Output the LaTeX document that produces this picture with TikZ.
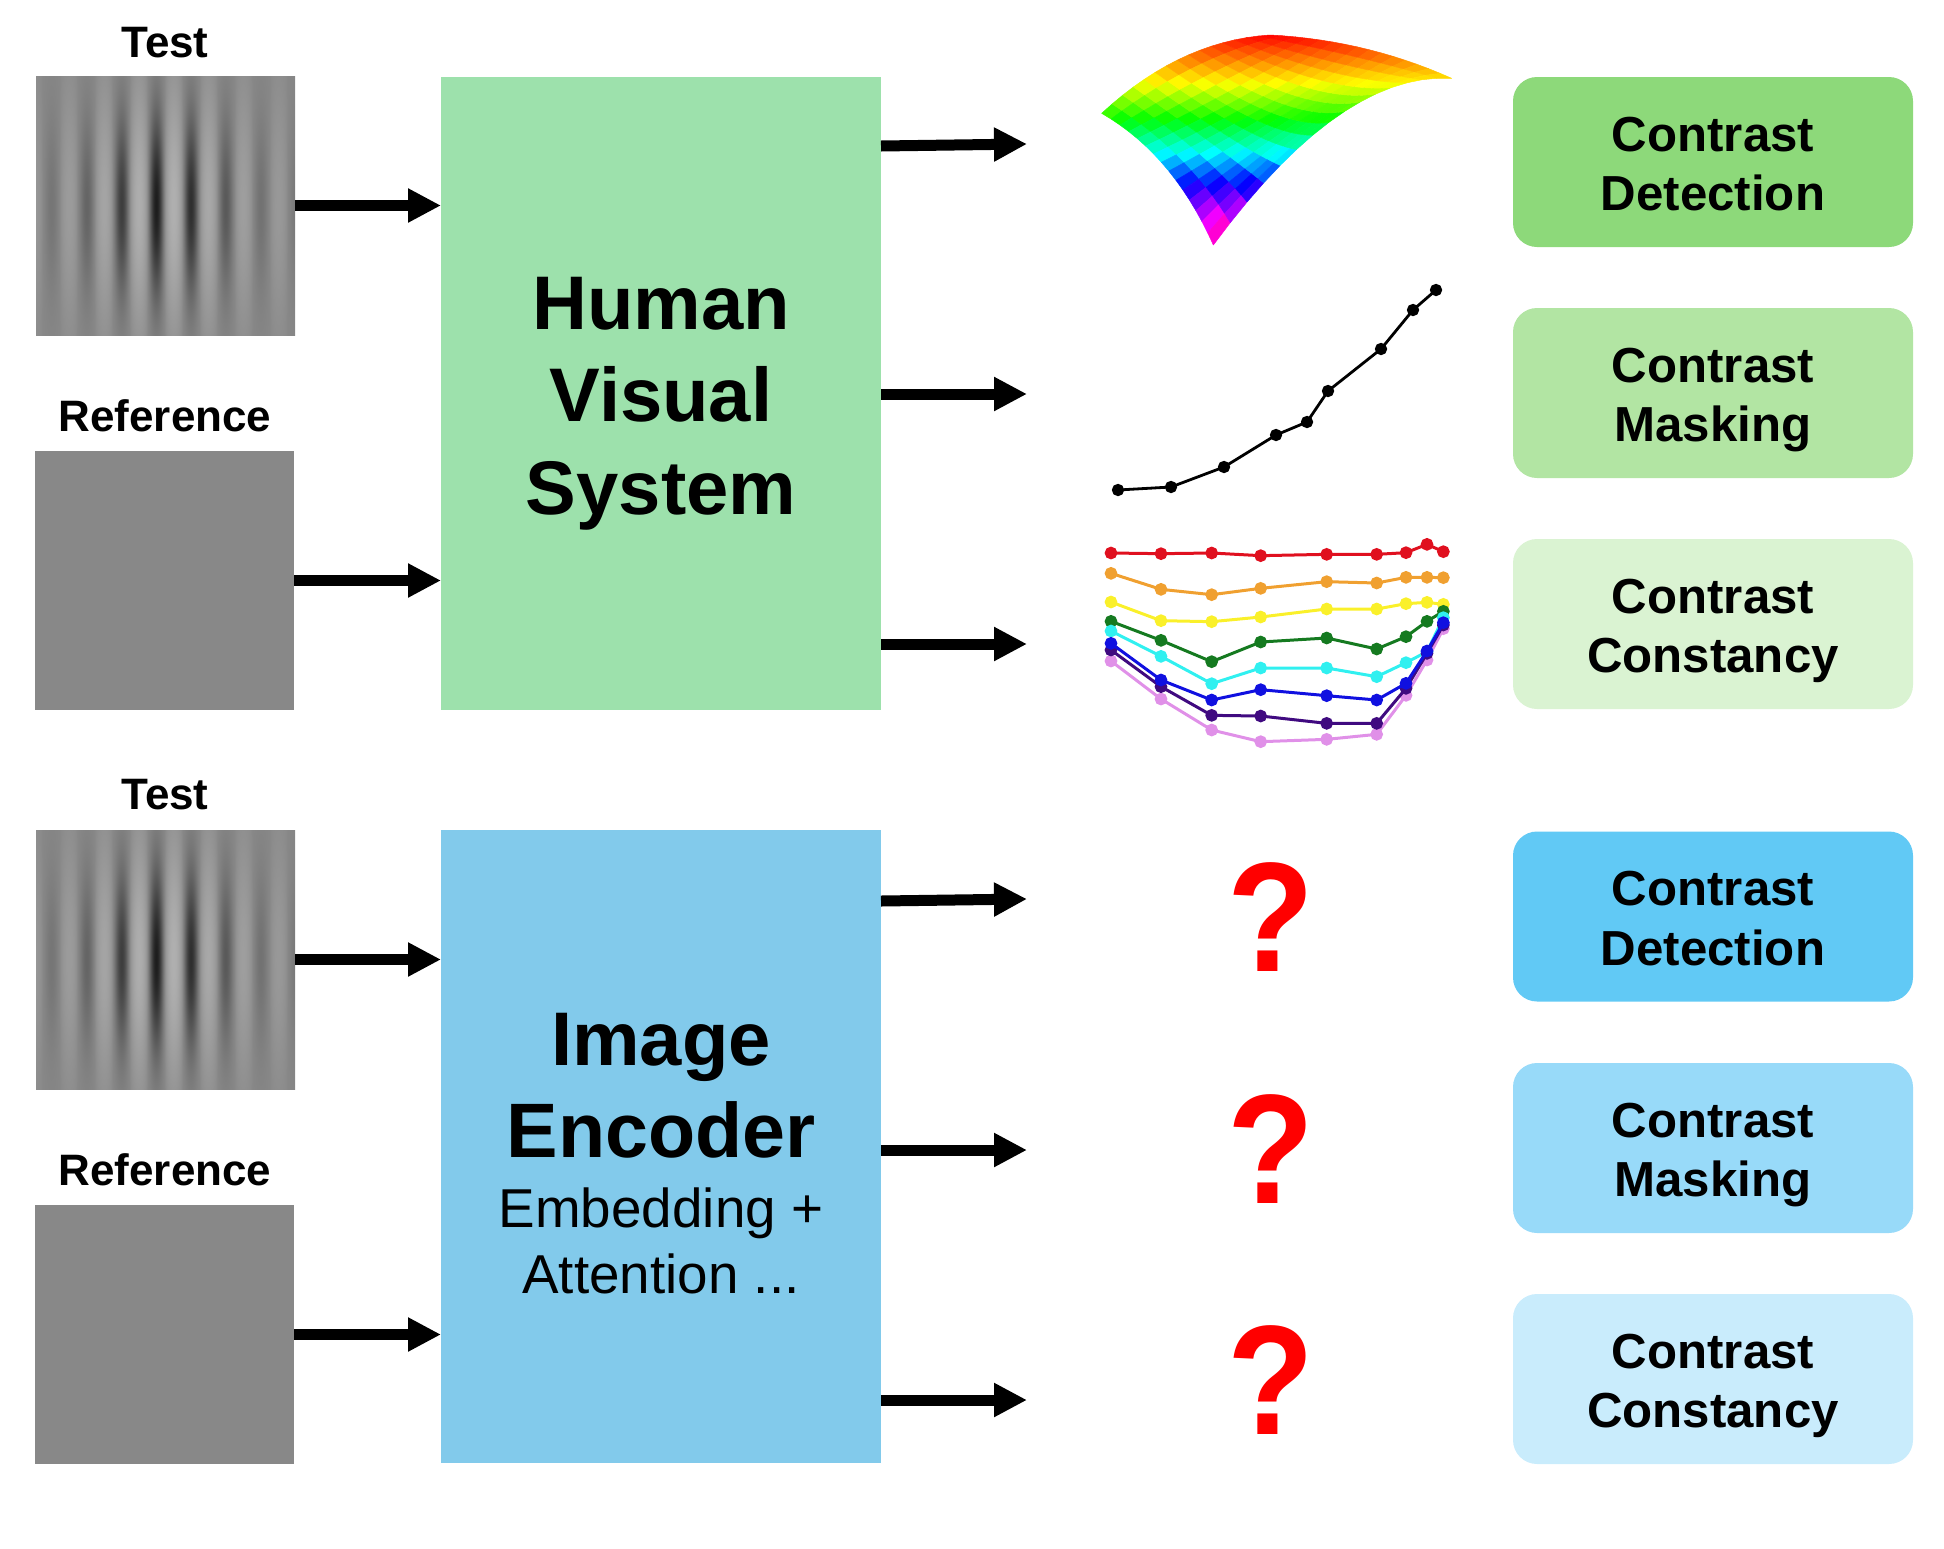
\PassOptionsToPackage{rgb}{xcolor}
\documentclass[tikz,border=0pt]{standalone}
\usepackage{graphicx}
\usepackage{fontspec}
\setmainfont{Liberation Sans}
\usetikzlibrary{arrows.meta}
\definecolor{hvsgreen}{HTML}{9DE1AC}
\definecolor{encblue}{HTML}{82CAEB}
\definecolor{gA}{HTML}{8DD97A}
\definecolor{gB}{HTML}{B2E5A3}
\definecolor{gC}{HTML}{DAF3D2}
\definecolor{bA}{HTML}{61C9F5}
\definecolor{bB}{HTML}{98DAF9}
\definecolor{bC}{HTML}{C9ECFC}
\definecolor{refgray}{HTML}{888888}
\definecolor{pRed}{HTML}{E0101F}
\definecolor{pOrange}{HTML}{F0A030}
\definecolor{pYellow}{HTML}{FAF02A}
\definecolor{pGreen}{HTML}{157A20}
\definecolor{pCyan}{HTML}{30F0F0}
\definecolor{pBlue}{HTML}{1010E0}
\definecolor{pPurple}{HTML}{400A80}
\definecolor{pViolet}{HTML}{E090E8}
\pgfdeclarefunctionalshading{gabor}{\pgfpoint{0bp}{0bp}}{\pgfpoint{100bp}{100bp}}{}{
  25 sub 5.18 mul exch 25 sub 5.18 mul exch
  129.5 sub dup mul 10000 div neg 2.71828 exch exp
  exch
  dup 126 sub dup mul 4418 div neg 2.71828 exch exp 0.8 mul 0.2 add
  3 -1 roll mul
  exch
  120 sub 360 mul 35 div cos
  mul
  dup 0 gt { 1.3 exp 0.42 mul 0.53 exch sub } { neg 0.6 exp 0.16 mul 0.53 add } ifelse
  dup dup
}
\tikzset{
  stim/.style={minimum width=129.5pt,minimum height=129.5pt,inner sep=0pt,outer sep=0pt,anchor=north west},
  gaborimg/.style={stim,shade,shading=gabor},
  refimg/.style={stim,fill=refgray},
  bigbox/.style={minimum width=220pt,minimum height=316.5pt,inner sep=0pt,outer sep=0pt,anchor=north west},
  lab/.style={minimum width=200pt,minimum height=85pt,inner sep=0pt,outer sep=0pt,anchor=north west,rounded corners=12pt,align=center,font=\fontsize{24.6}{29.6}\selectfont\bfseries},
  stimlabel/.style={anchor=base,inner sep=0pt,font=\fontsize{22}{26}\selectfont\bfseries},
  qmark/.style={anchor=base,inner sep=0pt,text=red,font=\fontsize{78}{90}\selectfont\bfseries},
  flow/.style={line width=5.5pt,-{Triangle[length=16.5pt,width=16pt]}},
}
\newcommand\liftA{\rule{0pt}{19.2pt}}
\newcommand\liftB{\rule{0pt}{24.2pt}}
\newcommand\fHead{\fontsize{38}{46.2}\selectfont\bfseries}
\newcommand\fEnc{\fontsize{38.6}{46}\selectfont\bfseries}
\newcommand\fSub{\fontsize{27.4}{33}\selectfont\mdseries}
\newcommand\basisA[1]{\pgfmathsetmacro\aa{(1-#1)*(1-#1)}\pgfmathsetmacro\ab{2*#1*(1-#1)}\pgfmathsetmacro\ac{#1*#1}}
\newcommand\basisB[1]{\pgfmathsetmacro\ba{(1-#1)*(1-#1)}\pgfmathsetmacro\bb{2*#1*(1-#1)}\pgfmathsetmacro\bc{#1*#1}}
\newcommand\surfY{\pgfmathsetmacro\sy{\aa*(\ba*280+\bb*62+\bc*45)+\ab*(\ba*402+\bb*408+\bc*60)+\ac*(\ba*675+\bb*155+\bc*175)}}
\newcommand\surfX{\pgfmathsetmacro\sx{\aa*(\ba*65+\bb*300+\bc*570)+\ab*(\ba*278+\bb*676+\bc*858)+\ac*(\ba*400+\bb*783+\bc*1115)}}
\begin{document}
\begin{tikzpicture}[x=0.5pt,y=-0.5pt]
\useasboundingbox (0,0) rectangle (1944,1548);
% stimuli
\node[gaborimg] (test1) at (36,76) {};
\node[refimg] (ref1) at (35,451) {};
\node[gaborimg] (test2) at (36,830) {};
\node[refimg] (ref2) at (35,1205) {};
\node[stimlabel] (ltest1) at (165,57) {Test};
\node[stimlabel] (lref1) at (165,431) {Reference};
\node[stimlabel] (ltest2) at (165,809) {Test};
\node[stimlabel] (lref2) at (165,1185) {Reference};
% main boxes
\node[bigbox,fill=hvsgreen] (hvs) at (441,77) {\parbox{220pt}{\centering\vspace*{10pt}\fHead Human\par Visual\par System\par}};
\node[bigbox,fill=encblue] (enc) at (441,830) {\parbox{220pt}{\centering\vspace*{7.4pt}\fHead Image\par \fEnc Encoder\par\vspace{2pt} \fSub Embedding +\par Attention ...\par}};
% result labels
\node[lab,fill=gA] (d1) at (1513,77) {\liftA Contrast\\ Detection};
\node[lab,fill=gB] (m1) at (1513,308) {\liftB Contrast\\ Masking};
\node[lab,fill=gC] (c1) at (1513,539) {\liftB Contrast\\ Constancy};
\node[lab,fill=bA] (d2) at (1513,831.5) {\liftA Contrast\\ Detection};
\node[lab,fill=bB] (m2) at (1513,1063) {\liftB Contrast\\ Masking};
\node[lab,fill=bC] (c2) at (1513,1294) {\liftB Contrast\\ Constancy};
% input arrows
\draw[flow] (test1.east) -- (hvs.west |- test1.east);
\draw[flow] (ref1.east) -- (hvs.west |- ref1.east);
\draw[flow] (test2.east) -- (enc.west |- test2.east);
\draw[flow] (ref2.east) -- (enc.west |- ref2.east);
% output arrows
\coordinate (h1s) at (881,146); \coordinate (h1e) at (1027,144);
\coordinate (h2s) at (881,394); \coordinate (h2e) at (1027,394);
\coordinate (h3s) at (881,644); \coordinate (h3e) at (1027,644);
\coordinate (e1s) at (881,901); \coordinate (e1e) at (1027,899);
\coordinate (e2s) at (881,1150); \coordinate (e2e) at (1027,1150);
\coordinate (e3s) at (881,1400); \coordinate (e3e) at (1027,1400);
\foreach \s/\e in {h1s/h1e,h2s/h2e,h3s/h3e,e1s/e1e,e2s/e2e,e3s/e3e} \draw[flow] (\s) -- (\e);
% surface
\begin{scope}[shift={(1080,20)},x=0.16667pt,y=-0.16667pt]
\foreach \i in {0,...,15}{
  \pgfmathsetmacro\uu{\i/15}\basisA{\uu}
  \foreach \j in {0,...,15}{
    \pgfmathsetmacro\vv{\j/15}\basisB{\vv}\surfX\surfY
    \coordinate (s\i-\j) at (\sx,\sy);
  }
}
\foreach \i [evaluate=\i as \ii using int(\i+1)] in {0,...,14}{
  \pgfmathsetmacro\uu{(\i+0.5)/15}\basisA{\uu}
  \foreach \j [evaluate=\j as \jj using int(\j+1)] in {0,...,14}{
    \pgfmathsetmacro\vv{(\j+0.5)/15}\basisB{\vv}\surfY
    \pgfmathsetmacro\hh{max(0,min(345,\sy<190?(\sy-45)*0.41:(\sy<300?60+(\sy-190)*0.545:(\sy<400?120+(\sy-300)*0.6:(\sy<490?180+(\sy-400)*0.667:(\sy<600?240+(\sy-490)*0.545:300+(\sy-600)*0.4))))))}
    \definecolor{cc}{Hsb}{\hh,1,1}
    \fill[cc,draw=cc,line width=0.25pt,line join=round] (s\i-\j) -- (s\ii-\j) -- (s\ii-\jj) -- (s\i-\jj) -- cycle;
  }
}
\end{scope}
% masking curve
\draw[line width=1.4pt,black,mark size=2.35pt] plot[mark=*] coordinates {(1118,490) (1171,487) (1224,467) (1276,435) (1307,422) (1328,391) (1381,349) (1413,310) (1436,290)};
% constancy curves
\begin{scope}[shift={(1080,520)},x=0.16667pt,y=-0.16667pt]
\foreach \col/\a/\b/\c/\d/\e/\f/\g/\h/\k in {
 pViolet/423/537/630/665/658/643/526/420/326,
 pRed/99/101/99/107/103/103/98/73/95,
 pOrange/160/208/224/205/185/189/172/172/173,
 pYellow/246/302/305/291/267/267/251/247/253,
 pGreen/304/361/425/366/354/387/350/304/274,
 pCyan/333/409/491/444/444/470/428/395/293,
 pPurple/390/500/586/588/610/610/505/400/315,
 pBlue/370/480/540/509/527/540/490/393/308}{
  \draw[\col,line width=1.5pt,mark size=2.4pt,mark options={fill=\col,draw=\col}] plot[mark=*] coordinates {(93,\a) (243,\b) (395,\c) (542,\d) (740,\e) (890,\f) (978,\g) (1041,\h) (1090,\k)};
}
\end{scope}
% question marks
\node[qmark] (q1) at (1271,971) {\scalebox{0.91}[1]{?}};
\node[qmark] (q2) at (1271,1203) {\scalebox{0.91}[1]{?}};
\node[qmark] (q3) at (1271,1434) {\scalebox{0.91}[1]{?}};
\end{tikzpicture}
\end{document}
